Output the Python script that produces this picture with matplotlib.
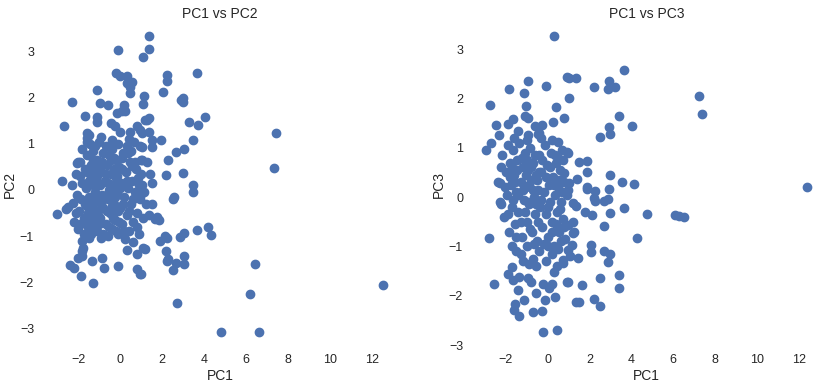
import numpy as np
import matplotlib.pyplot as plt

# Points (PC1, PC2)
pc1_a = [
    -0.1, 1.1, -0.2, 0.0, 0.33, 0.3, 0.57, 0.48, 0.48, -1.1, 1.14, -2.3, -0.95, -0.57, 0.2, 1.1,
    0.1, -0.14, 0.24, -1.67, -1.1, -1.1, -2.7, -0.43, -0.24, 0.8, 0.95, -1.57, 0.0, 0.48, 1.19,
    1.38, 1.38, 2.24, 2.24, 3.67, 2.05, 3.0, 3.0, 2.9, 1.38, 1.29, 4.05, 3.29, 3.71, 1.38,
    1.05, 1.52, 1.95, 3.48, 1.05, 1.52, 2.67, 3.05, 1.05, 1.29, 2.29, 1.43, 2.19, 3.0, 1.52,
    3.48, 3.48, 1.05, 1.0, 2.52, 2.57, 1.24, 1.52, 1.38, 1.67, 1.86, 1.76, 3.67, 4.19, 4.33,
    3.05, 2.14, 2.86, 1.9, 2.24, 1.1, 1.2, 2.19, 2.29, 2.24, 2.67, 3.05, 3.05, 2.52, 1.0,
    2.71, 4.8, -1.8, -1.76, -1.8, 0.24, 0.62, 0.33, 0.8, -2.0, -1.8, -1.33, -0.86, -2.38,
    -2.19, -0.76, -0.1, 0.8, 0.95, -1.86, -1.29, -2.76, -3.0, -2.6, -2.5, -2.24, -2.0, -2.05,
    -1.5, -1.57, -0.9, -0.38, 0.95, 0.3, 0.35, 0.57, 1.0,
    12.5, 7.4, 7.3, 6.4, 6.2, 6.6,
    -2.3, -2.1, -2.0, -1.9, -1.85, -1.8, -1.75, -1.7, -1.7, -1.65, -1.6, -1.6, -1.55, -1.5,
    -1.5, -1.45, -1.45, -1.4, -1.4, -1.35, -1.3, -1.3, -1.25, -1.2, -1.2, -1.15, -1.1, -1.1,
    -1.05, -1.0, -1.0, -0.95, -0.9, -0.9, -0.85, -0.8, -0.8, -0.75, -0.7, -0.65, -0.6, -0.6,
    -0.55, -0.5, -0.5, -0.45, -0.4, -0.35, -0.3, -0.3, -0.25, -0.2, -0.15, -0.1, -0.1, -0.05,
    0.0, 0.05, 0.1, 0.15, 0.2, 0.25, 0.3, 0.35, 0.4, 0.45, 0.5, 0.55, 0.6, 0.65, 0.7, 0.75,
    0.8, 0.85, 0.9, 0.95, 1.0, 1.1,
    -2.2, -2.05, -1.95, -1.9, -1.8, -1.75, -1.7, -1.65, -1.6, -1.55, -1.5, -1.45, -1.4, -1.35,
    -1.3, -1.25, -1.2, -1.15, -1.1, -1.05, -1.0, -0.95, -0.9, -0.85, -0.8, -0.75, -0.7, -0.65,
    -0.6, -0.55, -0.5, -0.45, -0.4, -0.35, -0.3, -0.25, -0.2, -0.15, -0.1, -0.05, 0.0, 0.1,
    0.15, 0.2, 0.3, 0.4, 0.5, 0.6, 0.7, 0.8, 0.9, 1.15,
    -1.6, -1.3, -1.0, -0.7, -0.4, -0.2, -1.9, -2.1, -1.2, -0.55, 0.1, 0.4,
]
pc2 = [
    3.04, 2.9, 2.54, 2.48, 2.48, 2.33, 2.35, 2.24, 2.1, 2.17, 2.04, 1.91, 1.89, 1.85, 1.85, 1.87,
    1.72, 1.67, 1.72, 1.6, 1.59, 1.48, 1.39, 1.46, 1.39, 1.39, 1.3, 1.24, 1.26, 1.26, 1.52,
    3.35, 3.07, 2.5, 2.37, 2.54, 2.13, 2.0, 1.91, 1.96, 1.57, 1.52, 1.59, 1.48, 1.41, 1.26,
    1.24, 1.09, 1.09, 1.09, 0.93, 0.93, 0.83, 0.89, 0.65, 0.61, 0.65, 0.35, 0.33, 0.37, 0.15,
    0.11, -0.04, 0.1, -0.09, -0.2, -0.15, -0.3, -0.3, -0.54, -0.63, -0.65, -0.59, -0.87, -0.8, -0.98,
    -0.93, -1.0, -1.02, -1.1, -1.04, -1.26, -1.28, -1.33, -1.5, -1.54, -1.59, -1.43, -1.61, -1.74, -1.83,
    -2.46, -3.09, -1.1, -1.26, -1.32, -1.07, -1.13, -1.3, -1.39, -1.48, -1.43, -1.54, -1.48, -1.63,
    -1.7, -1.7, -1.65, -1.72, -1.83, -1.87, -2.02, 0.2, -0.52, -0.41, -0.37, -0.28, 0.61, 0.58,
    1.2, 1.13, 1.15, 1.09, 0.96, 0.96, 0.8, 0.52, 0.65,
    -2.07, 1.24, 0.48, -1.6, -2.26, -3.08,
    0.1, -0.5, -0.85, 0.3, -0.2, 0.9, -0.6, 0.45, -1.0, 0.05, -0.35, 0.75, -0.8, 0.2,
    -0.15, 1.0, -0.55, 0.55, -0.95, -0.3, 0.1, 0.85, -0.7, 0.35, -0.05, -0.45, 0.65, -0.9,
    0.15, -0.25, 1.05, -0.6, 0.4, -1.05, -0.1, 0.8, -0.4, 0.2, -0.75, 0.55, -0.2, -1.0,
    0.0, 0.95, -0.5, 0.35, -0.85, 0.1, -0.3, 0.7, -0.65, 0.25, -0.05, 1.0, -0.95, 0.5,
    -0.4, 0.15, -0.75, 0.8, -0.15, 0.4, -0.55, 0.05, -0.9, 0.6, -0.3, 0.2, -0.7, 1.05, -0.05, 0.45,
    -0.5, 0.25, -0.95, -0.2, 0.35, -0.6,
    -0.7, -0.1, -0.45, -0.75, 0.15, -0.95, -0.3, -0.75, 0.4, -0.5, -1.05, -0.2, 0.25, -0.65,
    -0.4, 0.5, -0.85, -0.15, 0.3, -0.55, -0.75, 0.1, -0.3, 0.6, -0.95, -0.15, 0.35, -0.45,
    0.15, -0.8, -0.1, 0.65, -0.35, -0.6, 0.45, -0.15, -0.9, 0.3, -0.45, -0.7, 0.05, 0.45,
    -0.3, -0.9, 0.2, -0.45, 0.85, -0.2, 0.6, -0.8, 0.1, -0.05,
    1.05, 0.65, 0.5, 0.95, 0.9, 0.65, 0.6, 0.35, 0.95, 0.75, 0.7, 1.1,
]

# Points (PC1, PC3)
pc1_b = [
    0.29, 0.9, 1.0, -0.95, -1.86, -1.14, -0.1, -2.76, -1.05, 0.38, 1.0, 0.8, -1.1, -0.95, -1.67,
    -1.9, -2.48, 0.24, -0.62, -0.29, -1.43, -2.33, -0.95, -0.43, 1.33,
    3.67, 2.95, 2.19, 2.86, 3.24, 3.43, 4.05, 2.95, 2.48, 3.0,
    0.95, 1.48, 1.9, 1.86, 3.0, 3.57, 4.14, 1.38, 1.0, 0.95, 1.86, 1.9, 2.24, 2.95, 2.19, 2.24,
    2.67, 2.86, 1.19, 1.33, 3.67, 1.76, 2.14, 3.0, 4.76, 1.19, 2.67, 0.95, 1.24, 1.2, 4.29,
    1.14, 0.95, 1.05, 1.43, 2.05, 2.05, 2.67, 3.0, 2.86, 0.95, 1.62, 2.52, 3.43, 3.43, 1.33,
    1.48, 2.19, 2.52,
    -2.81, -2.57, -1.52, -1.71, -1.9, -1.67, -1.38, -1.43, -1.14, -1.57, -1.62, -1.38, -0.71,
    -0.29, -0.14, -0.57, 0.33, 0.05, -0.24, 0.19, 0.29, 0.9, -0.24, 0.43, -0.95, -0.81, 0.71, 0.71,
    12.4, 7.24, 7.38, 6.1, 6.3, 6.5,
    -2.71, -2.95, -2.24, -2.29, -2.24, -0.48, 0.48, 0.33, 0.9, 0.71, 0.76, 0.52,
    -2.4, -2.2, -2.1, -2.0, -1.95, -1.9, -1.85, -1.8, -1.75, -1.7, -1.65, -1.6, -1.55, -1.5,
    -1.45, -1.4, -1.35, -1.3, -1.25, -1.2, -1.15, -1.1, -1.05, -1.0, -0.95, -0.9, -0.85, -0.8,
    -0.75, -0.7, -0.65, -0.6, -0.55, -0.5, -0.45, -0.4, -0.35, -0.3, -0.25, -0.2, -0.15, -0.1,
    -0.05, 0.0, 0.05, 0.1, 0.15, 0.2, 0.25, 0.3, 0.35, 0.4, 0.45, 0.5, 0.55, 0.6, 0.65, 0.7,
    0.75, 0.8, 0.85, 0.9,
    -2.3, -2.05, -1.9, -1.8, -1.7, -1.65, -1.55, -1.5, -1.45, -1.4, -1.3, -1.25, -1.2, -1.1,
    -1.05, -1.0, -0.95, -0.9, -0.85, -0.8, -0.7, -0.65, -0.6, -0.55, -0.5, -0.45, -0.4, -0.3,
    -0.25, -0.2, -0.1, 0.0, 0.1, 0.2, 0.3, 0.4, 0.5, 0.6, 0.7, 0.8,
    -1.7, -1.3, -1.0, -0.7, -0.4, -0.1, 0.2, 0.5, -0.9, 0.0, -1.2, -0.55, 0.45, 0.65,
    -1.6, -1.0, -0.3, 0.2,
]
pc3 = [
    3.27, 2.43, 2.41, 2.35, 2.19, 2.11, 2.25, 1.87, 1.85, 1.83, 2.0, 1.6, 1.64, 1.6, 1.58,
    1.48, 1.46, 1.52, 1.44, 1.46, 1.34, 1.26, 1.26, 1.3, 2.41,
    2.58, 2.35, 2.23, 2.19, 2.23, 1.64, 1.44, 1.42, 1.22, 1.28,
    0.89, 0.71, 0.73, 0.51, 0.45, 0.3, 0.26, 0.37, 0.28, 0.14, 0.2, 0.16, 0.12, 0.16, -0.02, -0.08,
    -0.08, -0.04, -0.12, -0.18, -0.22, -0.3, -0.37, -0.33, -0.35, -0.51, -0.59, -0.57, -0.71, -0.73, -0.83,
    -0.97, -1.08, -1.2, -1.24, -0.97, -1.12, -1.1, -1.16, -1.32, -1.72, -1.79, -1.64, -1.58, -1.85, -2.13,
    -2.13, -2.07, -2.21,
    -0.83, -1.77, -1.1, -1.42, -1.56, -1.68, -1.62, -1.89, -2.09, -2.17, -2.29, -2.41, -2.33,
    -2.31, -2.09, -1.95, -2.03, -1.85, -1.76, -1.76, -1.52, -1.72, -2.74, -2.7, -1.64, -1.72, -1.28, -1.34,
    0.2, 2.04, 1.69, -0.37, -0.39, -0.41,
    1.1, 0.96, 0.61, 0.28, -0.14, 1.28, 1.12, 0.85, 0.91, 0.75, 0.49, 0.35,
    0.3, 0.85, -0.4, 0.5, 0.05, 1.05, -0.7, 0.7, 0.25, -0.2, 0.95, 0.45, -0.55, 0.1,
    0.75, -0.3, 1.1, 0.3, -0.8, 0.6, -0.05, 0.9, 0.2, -0.5, 0.55, -0.15, 1.0, 0.35,
    -0.7, 0.7, 0.0, -0.35, 0.45, -0.9, 0.15, 0.85, -0.2, 0.5, -0.6, 0.1, 1.05, -0.35,
    0.65, -0.8, 0.25, -0.1, 0.9, -0.5, 0.4, -1.0, 0.05, 0.7, -0.3, 0.2, -0.7, 0.55, -0.1, 0.95,
    -0.45, 0.3, -0.85, 0.05,
    -0.1, 0.2, -0.35, 0.4, 0.6, -0.05, 0.3, -0.8, 0.55, 0.05, -0.5, 0.8, 0.15, -0.3,
    0.45, 0.75, -0.1, 0.25, -0.65, 0.6, 0.15, -0.95, 0.85, -0.15, 0.35, -0.5, 0.5, -0.05,
    0.75, -0.95, 0.4, -0.2, 0.6, -0.7, 0.25, -0.55, 0.8, -0.25, 0.1, -0.6,
    -1.0, -1.15, -1.0, -1.25, -1.1, -1.3, -1.15, -1.05, -1.35, -1.0, -1.3, -1.4, -1.4, -0.9,
    1.2, 1.15, 1.2, 1.15,
]

blue = '#4C72B0'

plt.rcParams['font.family'] = ['Liberation Sans', 'DejaVu Sans']
plt.rcParams['axes.unicode_minus'] = True

fig = plt.figure(figsize=(8.31, 3.88), dpi=100)
ax1 = fig.add_axes([41 / 831, 41 / 388, 358 / 831, 326 / 388])
ax2 = fig.add_axes([470 / 831, 41 / 388, 353 / 831, 326 / 388])

# PC1 vs PC2
ax1.scatter(pc1_a, pc2, s=36, color=blue)
ax1.set_title('PC1 vs PC2', fontsize=10, pad=2)
ax1.set_xlabel('PC1', fontsize=10, labelpad=2)
ax1.set_ylabel('PC2', fontsize=10, labelpad=2)
ax1.set_xticks([-2, 0, 2, 4, 6, 8, 10, 12])
ax1.set_yticks([-3, -2, -1, 0, 1, 2, 3])

# PC1 vs PC3
ax2.scatter(pc1_b, pc3, s=36, color=blue)
ax2.set_title('PC1 vs PC3', fontsize=10, pad=2)
ax2.set_xlabel('PC1', fontsize=10, labelpad=2)
ax2.set_ylabel('PC3', fontsize=10, labelpad=2)
ax2.set_xticks([-2, 0, 2, 4, 6, 8, 10, 12])
ax2.set_yticks([-3, -2, -1, 0, 1, 2, 3])

for ax in (ax1, ax2):
    for sp in ax.spines.values():
        sp.set_visible(False)
    ax.tick_params(length=0, labelsize=9, colors='#262626', pad=5)
    ax.xaxis.label.set_color('#262626')
    ax.yaxis.label.set_color('#262626')
    ax.title.set_color('#262626')

fig.savefig('out.png', dpi=100)
